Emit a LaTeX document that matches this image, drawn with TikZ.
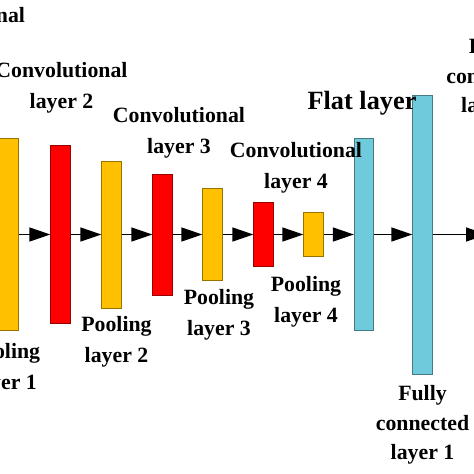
\documentclass[tikz,border=0pt]{standalone}
\usepackage{fontspec}
\setmainfont{Liberation Serif}
\usetikzlibrary{arrows.meta}

\definecolor{poolc}{HTML}{FFC000}
\definecolor{convc}{HTML}{FF0000}
\definecolor{densec}{HTML}{6FCBDC}

\tikzset{
    bar/.style={draw=#1!60!black, line width=0.8pt, minimum width=19.5pt, inner sep=0pt},
    flow/.style={line width=1.4pt, -{Triangle[length=21pt, width=14pt]}},
    lbl/.style={align=center, inner sep=0pt, font=\bfseries\fontsize{21.8}{31}\selectfont},
    lblbig/.style={align=center, inner sep=0pt, font=\bfseries\fontsize{26.3}{31}\selectfont},
    lblfc/.style={align=center, inner sep=0pt, font=\bfseries\fontsize{21.8}{29.5}\selectfont}
}

\begin{document}
\begin{tikzpicture}[x=1pt, y=-1pt]
    \useasboundingbox (0, 0) rectangle (474, 474);

    % layers
    \foreach \name/\x/\h/\col in {pool1/9/192/poolc, conv2/60.5/178/convc, pool2/111.5/147/poolc,
        conv3/162.5/121/convc, pool3/212.5/92/poolc, conv4/263.5/64/convc, pool4/313.5/44/poolc,
        flat/364/192/densec, fc1/422.5/279/densec} {
        \node[bar=\col, fill=\col, minimum height=\h pt] (\name) at (\x, 234.5) {};
    }
    \coordinate (fc2in) at (487, 234.5);

    % arrows
    \foreach \a/\b in {pool1/conv2, conv2/pool2, pool2/conv3, conv3/pool3, pool3/conv4,
        conv4/pool4, pool4/flat, flat/fc1, fc1/fc2in} {
        \draw[flow] (\a) -- (\b);
    }

    % labels
    \node[lbl] (lconv1) at (-41, 15) {Convolutional};
    \node[lbl] (lconv2) at (61.5, 87.5) {Convolutional\\layer 2};
    \node[lbl] (lconv3) at (179, 132.5) {Convolutional\\layer 3};
    \node[lbl] (lconv4) at (296, 167.5) {Convolutional\\layer 4};
    \node[lbl] (lpool1) at (5, 369) {Pooling\\layer 1};
    \node[lbl] (lpool2) at (116.5, 341.5) {Pooling\\layer 2};
    \node[lbl] (lpool3) at (219, 314.5) {Pooling\\layer 3};
    \node[lbl] (lpool4) at (306, 301.5) {Pooling\\layer 4};
    \node[lblbig] (lflat) at (362, 103) {Flat layer};
    \node[lblfc] (lfc1) at (422.5, 425) {Fully\\connected\\layer 1};
    \node[lblfc] (lfc2) at (493, 78) {Fully\\connected\\layer 2};

\end{tikzpicture}
\end{document}
